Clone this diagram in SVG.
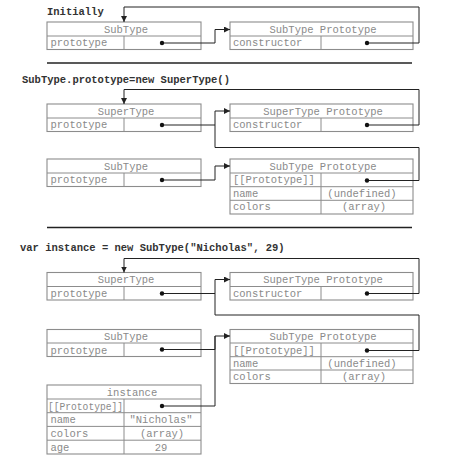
<svg xmlns="http://www.w3.org/2000/svg" width="474" height="461" viewBox="0 0 474 461">
<defs>
<marker id="ah" viewBox="0 0 10 10" refX="10" refY="5" markerWidth="6" markerHeight="6" markerUnits="userSpaceOnUse" orient="auto"><path d="M0,0 L10,5 L0,10 z" fill="#222"/></marker>
<style>
.bx{fill:#fff;stroke:#8c8c8c;stroke-width:1.1}
.ln{fill:none;stroke:#8c8c8c;stroke-width:1}
.t{font-family:"Liberation Mono","DejaVu Sans Mono",monospace;font-size:10.5px;fill:#8a8a8a}
.c{text-anchor:middle}
.h{font-family:"Liberation Mono","DejaVu Sans Mono",monospace;font-size:10.5px;font-weight:bold;fill:#333}
.cn{fill:none;stroke:#222;stroke-width:1}
.ar{marker-end:url(#ah)}
.dot{fill:#111}
.dv{stroke:#222;stroke-width:1.4}
</style>
</defs>
<rect width="474" height="461" fill="#fff"/>

<text class="h" x="47" y="15">Initially</text>
<line class="dv" x1="47" y1="63" x2="412" y2="63"/>
<text class="h" x="22" y="83">SubType.prototype=new SuperType()</text>
<line class="dv" x1="47" y1="227.5" x2="412" y2="227.5"/>
<text class="h" x="20" y="250.5">var instance = new SubType("Nicholas", 29)</text>

<!-- Section 1 -->
<g id="s1-subtype">
<rect class="bx" x="47" y="22" width="154" height="27.5"/>
<line class="ln" x1="47" y1="36" x2="201" y2="36"/>
<line class="ln" x1="124" y1="36" x2="124" y2="49.5"/>
<text class="t c" x="126" y="32.5">SubType</text>
<text class="t" x="50.5" y="46">prototype</text>
</g>
<g id="s1-subproto">
<rect class="bx" x="230" y="22" width="183" height="27.5"/>
<line class="ln" x1="230" y1="36" x2="413" y2="36"/>
<line class="ln" x1="321" y1="36" x2="321" y2="49.5"/>
<text class="t c" x="323" y="32.5">SubType Prototype</text>
<text class="t" x="233" y="46">constructor</text>
</g>

<!-- Section 2 -->
<g id="s2-supertype">
<rect class="bx" x="47" y="104" width="154" height="27.5"/>
<line class="ln" x1="47" y1="118" x2="201" y2="118"/>
<line class="ln" x1="124" y1="118" x2="124" y2="131.5"/>
<text class="t c" x="126" y="114.5">SuperType</text>
<text class="t" x="50.5" y="128">prototype</text>
</g>
<g id="s2-superproto">
<rect class="bx" x="230" y="104" width="183" height="27.5"/>
<line class="ln" x1="230" y1="118" x2="413" y2="118"/>
<line class="ln" x1="321" y1="118" x2="321" y2="131.5"/>
<text class="t c" x="323" y="114.5">SuperType Prototype</text>
<text class="t" x="233" y="128">constructor</text>
</g>
<g id="s2-subtype">
<rect class="bx" x="47" y="159" width="154" height="27.5"/>
<line class="ln" x1="47" y1="173" x2="201" y2="173"/>
<line class="ln" x1="124" y1="173" x2="124" y2="186.5"/>
<text class="t c" x="126" y="169.5">SubType</text>
<text class="t" x="50.5" y="183">prototype</text>
</g>
<g id="s2-subproto">
<rect class="bx" x="230" y="159" width="183" height="55"/>
<line class="ln" x1="230" y1="173" x2="413" y2="173"/>
<line class="ln" x1="230" y1="186.7" x2="413" y2="186.7"/>
<line class="ln" x1="230" y1="200.3" x2="413" y2="200.3"/>
<line class="ln" x1="321" y1="173" x2="321" y2="214"/>
<text class="t c" x="323" y="169.5">SubType Prototype</text>
<text class="t" x="233" y="183">[[Prototype]]</text>
<text class="t" x="233" y="196.7">name</text>
<text class="t" x="233" y="210.3">colors</text>
<text class="t c" x="362" y="196.7">(undefined)</text>
<text class="t c" x="364" y="210.3">(array)</text>
</g>

<!-- Section 3 -->
<g id="s3-supertype">
<rect class="bx" x="47" y="272.5" width="154" height="27.5"/>
<line class="ln" x1="47" y1="286.5" x2="201" y2="286.5"/>
<line class="ln" x1="124" y1="286.5" x2="124" y2="300"/>
<text class="t c" x="126" y="283">SuperType</text>
<text class="t" x="50.5" y="296.5">prototype</text>
</g>
<g id="s3-superproto">
<rect class="bx" x="230" y="272.5" width="183" height="27.5"/>
<line class="ln" x1="230" y1="286.5" x2="413" y2="286.5"/>
<line class="ln" x1="321" y1="286.5" x2="321" y2="300"/>
<text class="t c" x="323" y="283">SuperType Prototype</text>
<text class="t" x="233" y="296.5">constructor</text>
</g>
<g id="s3-subtype">
<rect class="bx" x="47" y="329.5" width="154" height="27"/>
<line class="ln" x1="47" y1="343" x2="201" y2="343"/>
<line class="ln" x1="124" y1="343" x2="124" y2="356.5"/>
<text class="t c" x="126" y="340">SubType</text>
<text class="t" x="50.5" y="353.5">prototype</text>
</g>
<g id="s3-subproto">
<rect class="bx" x="230" y="329.5" width="183" height="54"/>
<line class="ln" x1="230" y1="343" x2="413" y2="343"/>
<line class="ln" x1="230" y1="356.7" x2="413" y2="356.7"/>
<line class="ln" x1="230" y1="370" x2="413" y2="370"/>
<line class="ln" x1="321" y1="343" x2="321" y2="383.5"/>
<text class="t c" x="323" y="340">SubType Prototype</text>
<text class="t" x="233" y="353.5">[[Prototype]]</text>
<text class="t" x="233" y="367">name</text>
<text class="t" x="233" y="380.3">colors</text>
<text class="t c" x="362" y="367">(undefined)</text>
<text class="t c" x="364" y="380.3">(array)</text>
</g>
<g id="s3-instance">
<rect class="bx" x="47" y="385" width="154" height="69"/>
<line class="ln" x1="47" y1="399" x2="201" y2="399"/>
<line class="ln" x1="47" y1="412.7" x2="201" y2="412.7"/>
<line class="ln" x1="47" y1="426.4" x2="201" y2="426.4"/>
<line class="ln" x1="47" y1="440.2" x2="201" y2="440.2"/>
<line class="ln" x1="124" y1="399" x2="124" y2="454"/>
<text class="t c" x="132" y="395.5">instance</text>
<text class="t" x="48" y="409.5" textLength="75" lengthAdjust="spacingAndGlyphs">[[Prototype]]</text>
<text class="t" x="50.5" y="423">name</text>
<text class="t" x="50.5" y="436.7">colors</text>
<text class="t" x="50.5" y="450.5">age</text>
<text class="t c" x="161" y="423">"Nicholas"</text>
<text class="t c" x="162" y="436.7">(array)</text>
<text class="t c" x="161" y="450.5">29</text>
</g>

<g id="connectors">
<!-- section 1 -->
<path class="cn ar" d="M162,43 H215 V29.5 H230"/>
<path class="cn ar" d="M367,43 H419 V7 H124 V22"/>
<!-- section 2 -->
<path class="cn ar" d="M367,125 H419 V89.5 H124 V104"/>
<path class="cn" d="M162,125 H215"/>
<path class="cn ar" d="M367,180.5 H419 V147.5 H215 V111 H230"/>
<path class="cn ar" d="M162,180 H215 V166 H230"/>
<!-- section 3 -->
<path class="cn ar" d="M367,293.5 H419 V258.5 H124 V272.5"/>
<path class="cn" d="M162,293.5 H215"/>
<path class="cn ar" d="M367,350.5 H419 V315 H215 V279.5 H230"/>
<path class="cn ar" d="M162,349.5 H215 V336 H230"/>
<path class="cn" d="M162,406 H215 V336"/>
<g class="dot">
<circle cx="162" cy="43" r="2.2"/>
<circle cx="367" cy="43" r="2.2"/>
<circle cx="162" cy="125" r="2.2"/>
<circle cx="367" cy="125" r="2.2"/>
<circle cx="162" cy="180" r="2.2"/>
<circle cx="367" cy="180.5" r="2.2"/>
<circle cx="162" cy="293.5" r="2.2"/>
<circle cx="367" cy="293.5" r="2.2"/>
<circle cx="162" cy="349.5" r="2.2"/>
<circle cx="367" cy="350.5" r="2.2"/>
<circle cx="162" cy="406" r="2.2"/>
</g>
</g>
</svg>
